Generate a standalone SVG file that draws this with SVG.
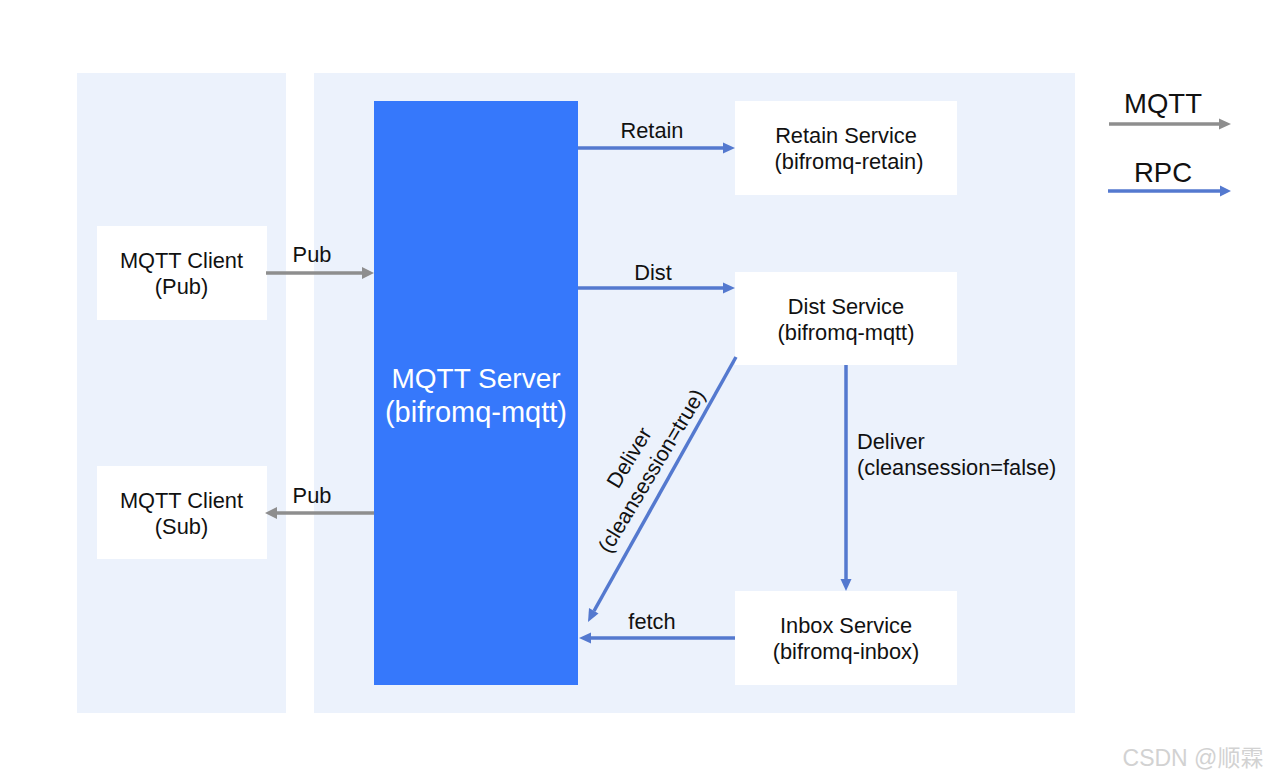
<svg xmlns="http://www.w3.org/2000/svg" width="1266" height="779" viewBox="0 0 1266 779">
<style>
text{font-family:"Liberation Sans",Arial,sans-serif;fill:#111;text-anchor:middle}
.t{font-size:21.800px}
.w{fill:#fff}
.p{fill:#ecf2fc}
.g{stroke:#8e8e8e;stroke-width:3.500;fill:none}
.b{stroke:#5479cf;stroke-width:3.500;fill:none}
.gh{fill:#8e8e8e}
.bh{fill:#5479cf}
</style>
<rect width="1266" height="779" fill="#fff"/>
<rect class="p" x="77" y="73" width="209" height="640"/>
<rect class="p" x="314" y="73" width="761" height="640"/>
<g id="client-pub"><rect class="w" x="97" y="226" width="170" height="94"/><text class="t" x="181.500" y="268">MQTT Client</text><text class="t" x="181.500" y="294">(Pub)</text></g>
<g id="client-sub"><rect class="w" x="97" y="466" width="170" height="93"/><text class="t" x="181.500" y="508">MQTT Client</text><text class="t" x="181.500" y="534">(Sub)</text></g>
<g id="server"><rect x="374" y="101" width="204" height="584" fill="#3678fb"/><text x="476" y="387.500" font-size="28" style="fill:#fff">MQTT Server</text><text x="476" y="421.500" font-size="29" style="fill:#fff">(bifromq-mqtt)</text></g>
<g id="retain"><rect class="w" x="735" y="101" width="222" height="94"/><text class="t" x="846" y="143">Retain Service</text><text class="t" x="849" y="169">(bifromq-retain)</text></g>
<g id="dist"><rect class="w" x="735" y="272" width="222" height="93"/><text class="t" x="846" y="314">Dist Service</text><text class="t" x="846" y="340">(bifromq-mqtt)</text></g>
<g id="inbox"><rect class="w" x="735" y="591" width="222" height="94"/><text class="t" x="846" y="633">Inbox Service</text><text class="t" x="846" y="659">(bifromq-inbox)</text></g>
<g id="connectors">
<path class="g" d="M266 273H363"/><path class="gh" d="M374 273L362 267V279Z"/>
<path class="g" d="M374 513H276"/><path class="gh" d="M265 513L277 507V519Z"/>
<path class="b" d="M578 148H725"/><path class="bh" d="M735 148L723 142.500V153.500Z"/>
<path class="b" d="M578 288H725"/><path class="bh" d="M735 288L723 282.500V293.500Z"/>
<path class="b" d="M846 365V581"/><path class="bh" d="M846 591L840.500 579H851.500Z"/>
<path class="b" d="M736 357L594 611"/><path class="bh" d="M588 622L589 608L598.500 613.500Z"/>
<path class="b" d="M735 638H589"/><path class="bh" d="M579 638L591 632.500V643.500Z"/>
</g>
<g id="labels">
<text class="t" x="312" y="262">Pub</text>
<text class="t" x="312" y="503">Pub</text>
<text class="t" x="652" y="138">Retain</text>
<text class="t" x="653" y="280">Dist</text>
<text class="t" x="652" y="629">fetch</text>
<text class="t" x="857" y="449" style="text-anchor:start">Deliver</text>
<text class="t" x="857" y="475" style="text-anchor:start">(cleansession=false)</text>
<g transform="translate(646.500 468) rotate(-59)"><text x="0" y="-13" font-size="21.300">Deliver</text><text x="0" y="13" font-size="21.300">(cleansession=true)</text></g>
</g>
<g id="legend">
<text x="1163" y="113" font-size="27.500">MQTT</text>
<path class="g" d="M1109 124H1220"/><path class="gh" d="M1231 124L1219 118.500V129.500Z"/>
<text x="1163" y="182" font-size="27.500">RPC</text>
<path class="b" d="M1108 191H1221"/><path class="bh" d="M1231 191L1220 185.500V196.500Z"/>
</g>
<text x="1193" y="766" font-size="23" style="font-family:'Liberation Sans','Noto Sans CJK SC',sans-serif;fill:#d2d2d2">CSDN @顺霖</text>
</svg>
